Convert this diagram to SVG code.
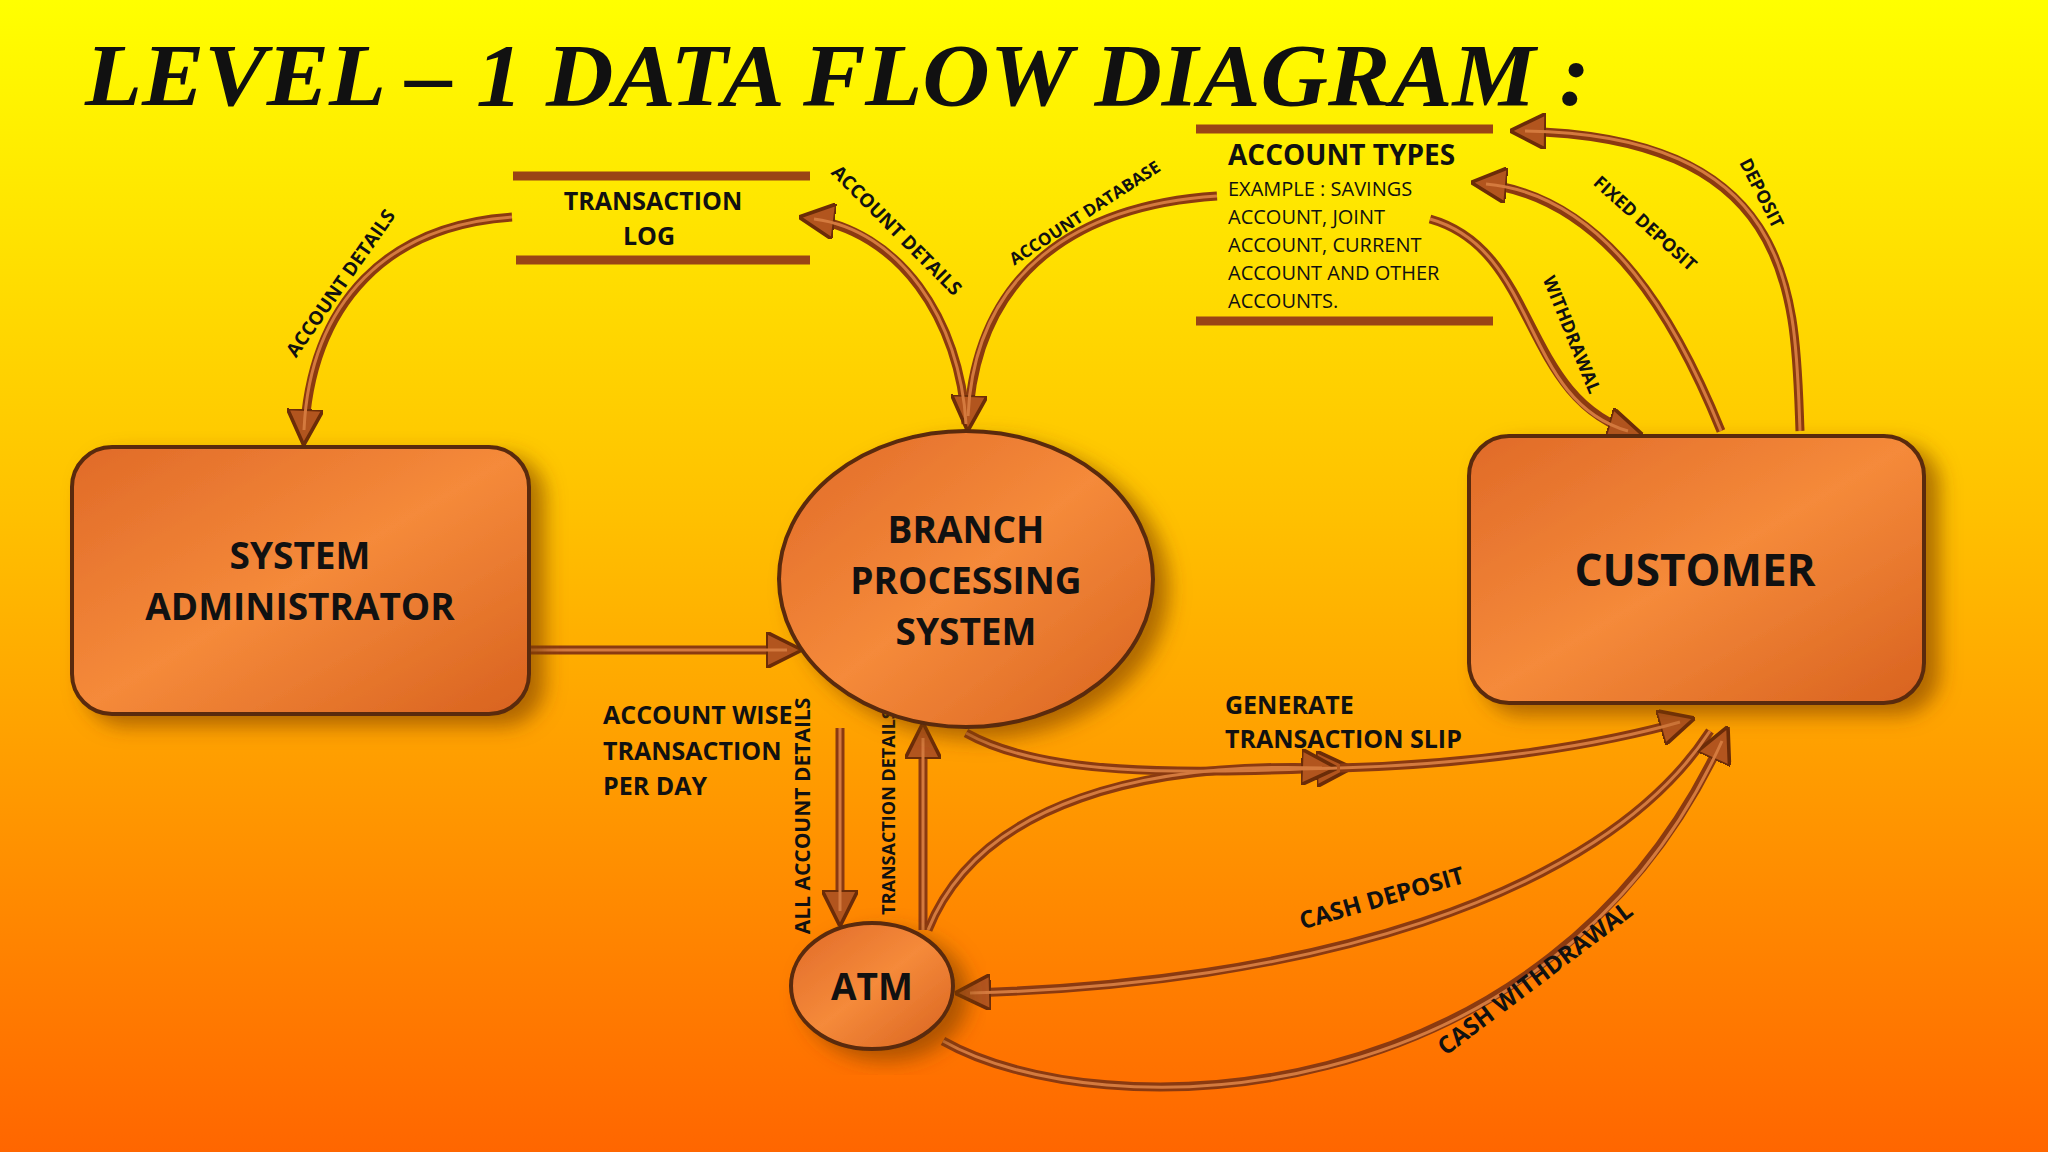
<svg xmlns="http://www.w3.org/2000/svg" width="2048" height="1152" viewBox="0 0 2048 1152">
<defs>
<linearGradient id="bg" x1="0" y1="0" x2="0" y2="1">
<stop offset="0" stop-color="#FFFF00"/><stop offset="0.45" stop-color="#FFC000"/><stop offset="1" stop-color="#FF6600"/>
</linearGradient>
<linearGradient id="nf" x1="0" y1="0" x2="1" y2="1">
<stop offset="0" stop-color="#E06A28"/><stop offset="0.5" stop-color="#F58A3A"/><stop offset="1" stop-color="#D8621F"/>
</linearGradient>
<filter id="sh" x="-20%" y="-20%" width="140%" height="140%">
<feDropShadow dx="14" dy="10" stdDeviation="10" flood-color="#7a3a00" flood-opacity="0.6"/>
</filter>
<marker id="ar" viewBox="0 0 10 10" refX="8" refY="5" markerWidth="4" markerHeight="4" orient="auto" markerUnits="strokeWidth">
<path d="M0,0 L10,5 L0,10 Z" fill="#B2551E" stroke="#6b2c08" stroke-width="1"/>
</marker>
<style>
.nd{fill:url(#nf);stroke:#5a2a0a;stroke-width:4;filter:url(#sh)}
.t{font-family:"Open Sans","Liberation Sans",sans-serif;font-weight:bold;fill:#111;text-anchor:middle}
.l{font-family:"Open Sans","Liberation Sans",sans-serif;font-weight:bold;fill:#111}
.c{fill:none;stroke:#8B3A10;stroke-width:9;marker-end:url(#ar)}
.ci{fill:none;stroke:#D47A3E;stroke-width:3}
.st{stroke:#9a4515;stroke-width:9}
</style>
</defs>
<rect width="2048" height="1152" fill="url(#bg)"/>
<text x="85" y="105" font-family="Liberation Serif,serif" font-style="italic" font-weight="bold" font-size="88" fill="#111" textLength="1505" lengthAdjust="spacingAndGlyphs">LEVEL – 1 DATA FLOW DIAGRAM :</text>

<g id="store-log">
<line class="st" x1="513" y1="176" x2="810" y2="176"/>
<line class="st" x1="516" y1="260" x2="810" y2="260"/>
<text class="t" x="653" y="210" font-size="25">TRANSACTION</text>
<text class="t" x="649" y="245" font-size="25">LOG</text>
</g>
<g id="store-types">
<line class="st" x1="1196" y1="129" x2="1493" y2="129"/>
<line class="st" x1="1196" y1="321" x2="1493" y2="321"/>
<text class="l" x="1228" y="165" font-size="28">ACCOUNT TYPES</text>
<g font-family="Open Sans,Liberation Sans,sans-serif" font-size="20" fill="#111">
<text x="1228" y="196">EXAMPLE : SAVINGS</text>
<text x="1228" y="224">ACCOUNT, JOINT</text>
<text x="1228" y="252">ACCOUNT, CURRENT</text>
<text x="1228" y="280">ACCOUNT AND  OTHER</text>
<text x="1228" y="308">ACCOUNTS.</text>
</g>
</g>

<g id="connectors">
<path class="c" d="M512,217 C390,225 310,300 304,438"/>
<path class="c" d="M966,424 C960,320 900,230 806,218"/>
<path class="c" d="M1217,196 C1080,205 975,270 968,424"/>
<path class="c" d="M529,650 L795,650"/>
<path class="c" d="M840,728 L840,919"/>
<path class="c" d="M923,930 L923,730"/>
<path class="c" d="M966,733 C1050,780 1200,772 1345,768"/>
<path class="c" d="M1340,768 C1480,764 1600,745 1688,720"/>
<path class="c" d="M928,930 C980,800 1150,762 1330,768"/>
<path class="c" d="M1710,731 C1600,900 1300,985 962,993"/>
<path class="c" d="M943,1041 C1100,1130 1550,1120 1725,733"/>
<path class="c" d="M1430,219 C1540,250 1520,400 1636,433"/>
<path class="c" d="M1721,431 C1680,330 1610,195 1478,183"/>
<path class="c" d="M1800,431 C1795,300 1800,135 1517,131"/>
<g class="ci">
<path d="M512,217 C390,225 310,300 304,430"/>
<path d="M966,424 C960,320 900,230 814,219"/>
<path d="M1217,196 C1080,205 975,270 968,416"/>
<path d="M529,650 L787,650"/>
<path d="M840,728 L840,911"/>
<path d="M923,930 L923,738"/>
<path d="M966,733 C1050,780 1200,772 1337,768"/>
<path d="M1340,768 C1480,764 1600,745 1680,722"/>
<path d="M928,930 C980,800 1150,762 1322,768"/>
<path d="M1710,731 C1600,900 1300,985 970,993"/>
<path d="M943,1041 C1100,1130 1550,1120 1722,741"/>
<path d="M1430,219 C1540,250 1520,400 1628,431"/>
<path d="M1721,431 C1680,330 1610,195 1486,184"/>
<path d="M1800,431 C1795,300 1800,135 1525,131"/>
</g>
<g class="l" font-size="19">
<text transform="translate(346,287) rotate(-55)" text-anchor="middle">ACCOUNT  DETAILS</text>
<text transform="translate(892,235) rotate(45)" text-anchor="middle">ACCOUNT  DETAILS</text>
<text transform="translate(1088,218) rotate(-33)" text-anchor="middle" font-size="17">ACCOUNT DATABASE</text>
<text transform="translate(810,816) rotate(-90)" text-anchor="middle" font-size="21">ALL ACCOUNT  DETAILS</text>
<text transform="translate(895,812) rotate(-90)" text-anchor="middle" font-size="18">TRANSACTION  DETAILS</text>
<text transform="translate(1384,906) rotate(-16)" text-anchor="middle" font-size="24">CASH  DEPOSIT</text>
<text transform="translate(1540,985) rotate(-37)" text-anchor="middle" font-size="24">CASH  WITHDRAWAL</text>
<text transform="translate(1566,337) rotate(68)" text-anchor="middle" font-size="18">WITHDRAWAL</text>
<text transform="translate(1641,228) rotate(42)" text-anchor="middle" font-size="18">FIXED  DEPOSIT</text>
<text transform="translate(1756,196) rotate(63)" text-anchor="middle" font-size="18">DEPOSIT</text>
</g>
<g class="l" font-size="25">
<text x="603" y="724">ACCOUNT WISE</text>
<text x="603" y="760">TRANSACTION</text>
<text x="603" y="795">PER DAY</text>
<text x="1225" y="714">GENERATE</text>
<text x="1225" y="748">TRANSACTION SLIP</text>
</g>
</g>

<g id="sysadmin">
<rect class="nd" x="72" y="447" width="457" height="267" rx="40"/>
<text class="t" x="300" y="569" font-size="37">SYSTEM</text>
<text class="t" x="300" y="620" font-size="37">ADMINISTRATOR</text>
</g>
<g id="branch">
<ellipse class="nd" cx="966" cy="579" rx="187" ry="148"/>
<text class="t" x="966" y="543" font-size="37">BRANCH</text>
<text class="t" x="966" y="594" font-size="37">PROCESSING</text>
<text class="t" x="966" y="645" font-size="37">SYSTEM</text>
</g>
<g id="customer">
<rect class="nd" x="1469" y="436" width="455" height="267" rx="40"/>
<text class="t" x="1695" y="586" font-size="44">CUSTOMER</text>
</g>
<g id="atm">
<ellipse class="nd" cx="872" cy="986" rx="81" ry="63"/>
<text class="t" x="872" y="1000" font-size="37">ATM</text>
</g>
</svg>
